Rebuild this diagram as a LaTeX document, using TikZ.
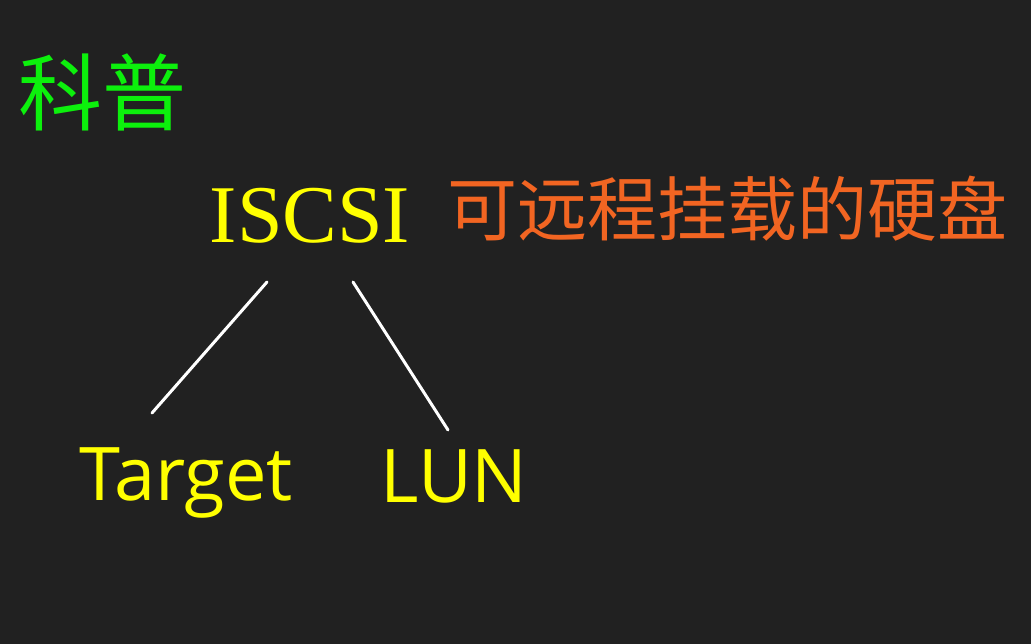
\documentclass[tikz,border=0pt]{standalone}
\usepackage{fontspec}
\setmainfont{Liberation Serif}
\newfontfamily\cjk{Noto Sans CJK SC}
\newfontfamily\opsans{Open Sans}
\definecolor{bgc}{HTML}{212121}
\definecolor{grn}{HTML}{0CF00C}
\definecolor{ylw}{HTML}{FFFF00}
\definecolor{org}{HTML}{F26522}
\begin{document}
\begin{tikzpicture}[x=1pt,y=-1pt,
  lbl/.style={inner sep=0pt, outer sep=0pt},
  link/.style={draw=white, line width=3pt, line cap=round}]
\fill[bgc] (0,0) rectangle (1031,644);
\useasboundingbox (0,0) rectangle (1031,644);
\node[lbl, text=grn, font=\cjk\fontsize{84}{90}\selectfont] (kp) at (102,92) {科普};
\node[lbl, text=ylw, font=\fontsize{82}{90}\selectfont, anchor=base] (iscsi) at (310,243) {ISCSI};
\node[lbl, text=org, font=\cjk\fontsize{70}{75}\selectfont] (desc) at (727,209) {可远程挂载的硬盘};
\node[lbl, text=ylw, font=\opsans\fontsize{74}{80}\selectfont, anchor=base] (target) at (186,500) {Target};
\node[lbl, text=ylw, font=\opsans\fontsize{74}{80}\selectfont, anchor=base] (lun) at (454,502) {LUN};
\coordinate (a1) at (267,282);
\coordinate (a2) at (152,413);
\coordinate (b1) at (353,282);
\coordinate (b2) at (448,430);
\draw[link] (a1) -- (a2);
\draw[link] (b1) -- (b2);
\end{tikzpicture}
\end{document}
